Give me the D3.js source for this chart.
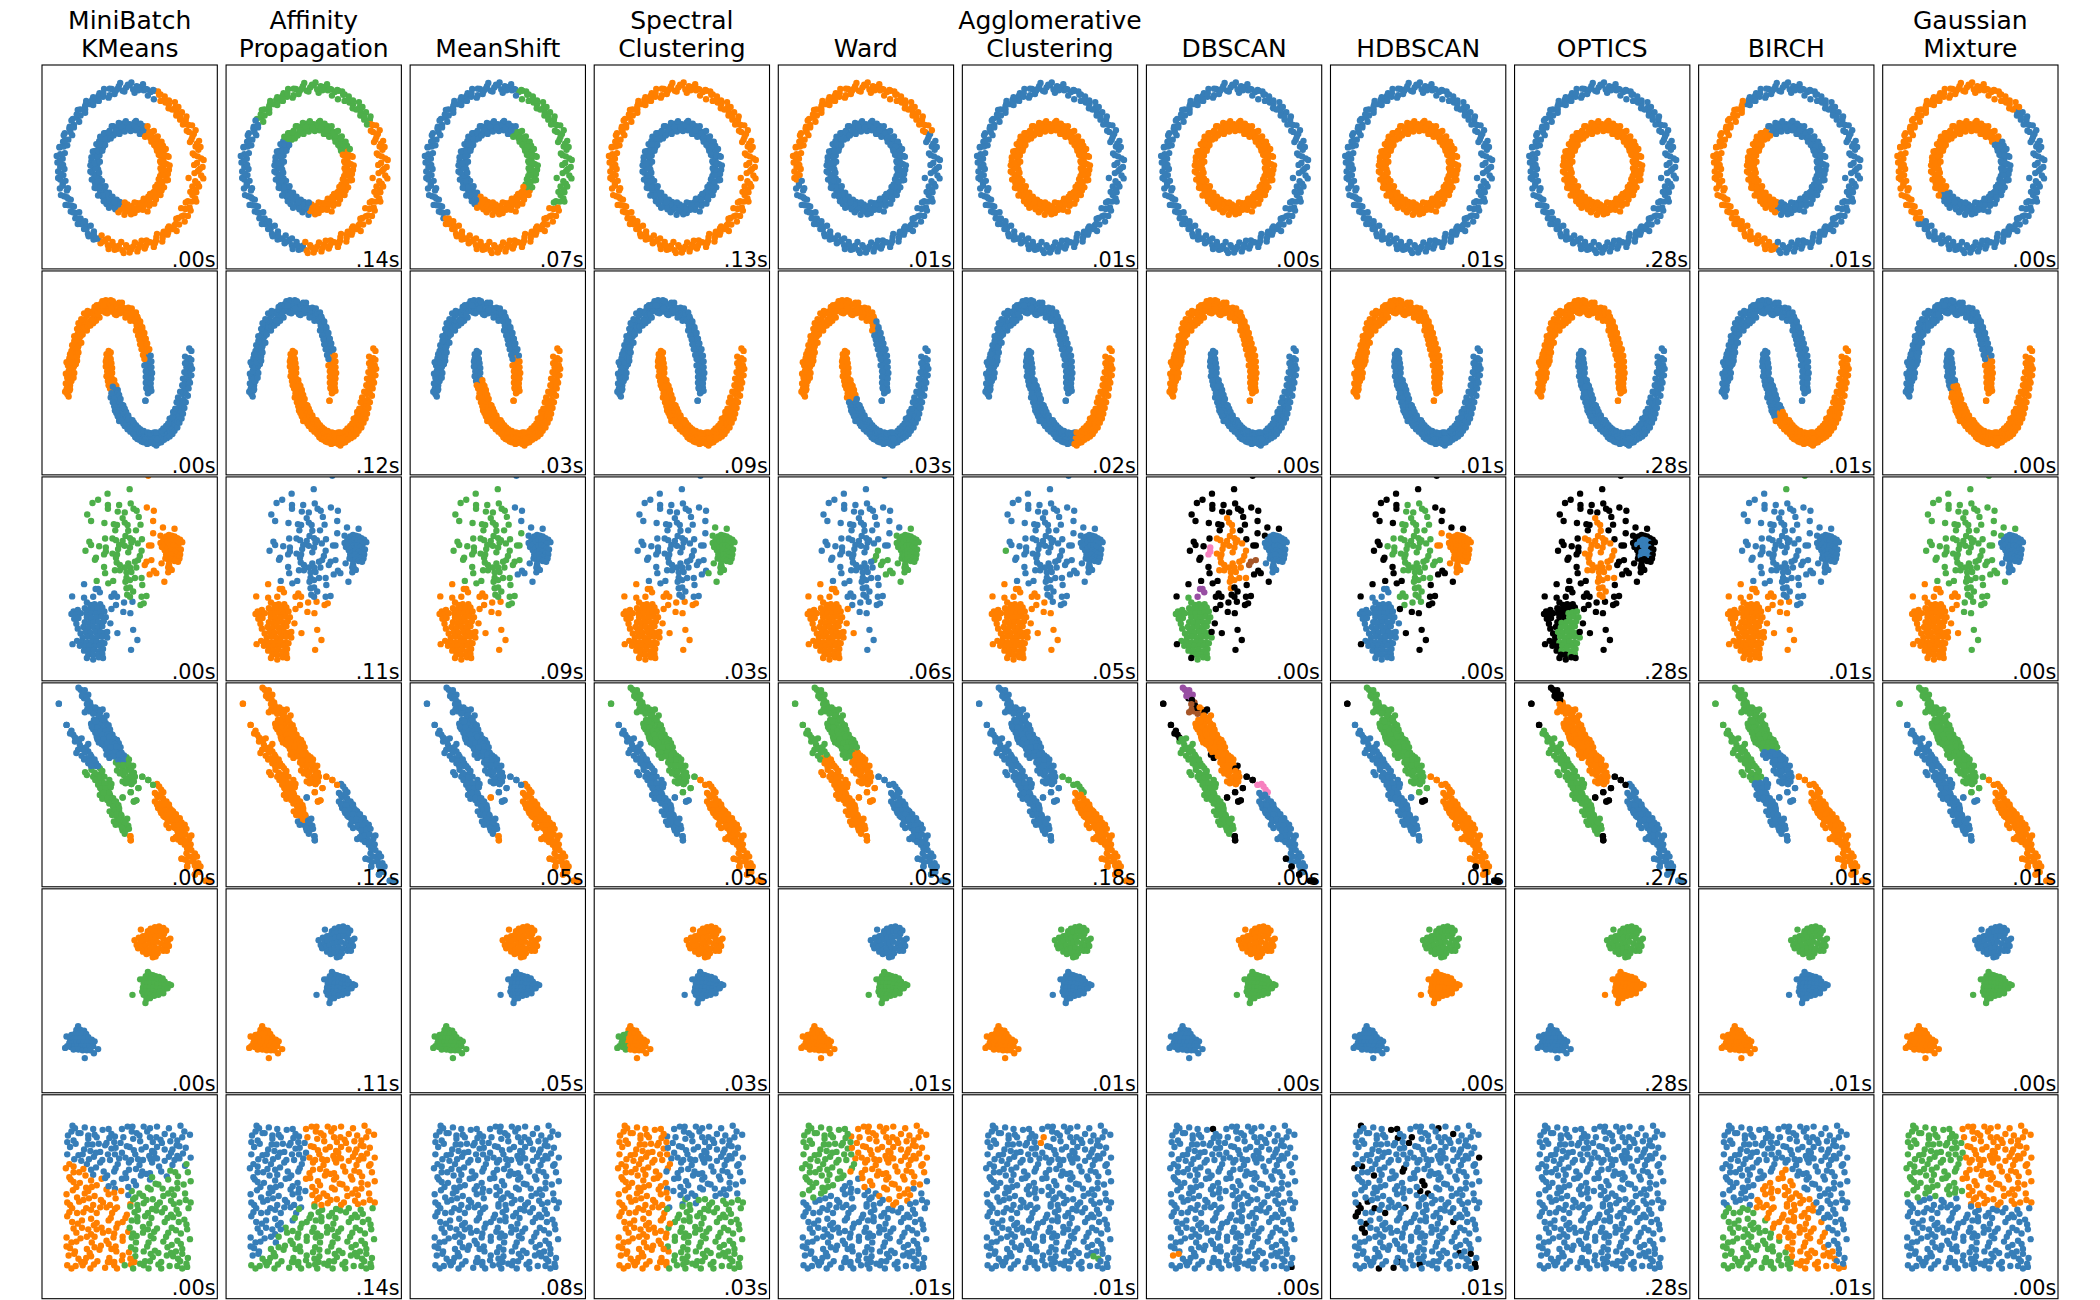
<!DOCTYPE html>
<html>
<head>
<meta charset="utf-8">
<title>Clustering comparison</title>
<script src="https://cdn.jsdelivr.net/npm/d3@7"></script>
<style>
  html, body { margin: 0; background: #fff; }
  svg { display: block; }
  text { font-family: "DejaVu Sans", sans-serif; fill: #000; }
</style>
</head>
<body>
<svg id="chart" width="2100" height="1300"></svg>
<script>
// ========= Data, in hundredths of a data unit =========
const algorithmTitles = [
  ["MiniBatch", "KMeans"], ["Affinity", "Propagation"], ["MeanShift"],
  ["Spectral", "Clustering"], ["Ward"], ["Agglomerative", "Clustering"],
  ["DBSCAN"], ["HDBSCAN"], ["OPTICS"], ["BIRCH"], ["Gaussian", "Mixture"],
];

const rowTimes = [
  [".00s", ".14s", ".07s", ".13s", ".01s", ".01s", ".00s", ".01s", ".28s", ".01s", ".00s"],
  [".00s", ".12s", ".03s", ".09s", ".03s", ".02s", ".00s", ".01s", ".28s", ".01s", ".00s"],
  [".00s", ".11s", ".09s", ".03s", ".06s", ".05s", ".00s", ".00s", ".28s", ".01s", ".00s"],
  [".00s", ".12s", ".05s", ".05s", ".05s", ".18s", ".00s", ".01s", ".27s", ".01s", ".01s"],
  [".00s", ".11s", ".05s", ".03s", ".01s", ".01s", ".00s", ".00s", ".28s", ".01s", ".00s"],
  [".00s", ".14s", ".08s", ".03s", ".01s", ".01s", ".00s", ".01s", ".28s", ".01s", ".00s"],
];

// flat x,y lists; rings run clockwise from the top, outer ring first
const circlesXY = [
  0,200, 10,190, 20,198, 31,196, 40,188, 50,190, 60,184, 70,187, 81,185, 88,178,
  100,173, 102,158, 112,154, 129,159, 130,145, 134,134, 149,134, 144,116, 160,116, 162,105,
  178,102, 169,86, 183,81, 176,67, 198,64, 188,50, 196,42, 185,29, 204,21, 192,10,
  208,0, 195,-10, 204,-21, 168,-27, 194,-41, 179,-48, 190,-62, 179,-69, 190,-85, 166,-84,
  171,-99, 159,-103, 166,-120, 149,-121, 139,-125, 141,-141, 128,-143, 123,-152, 109,-150, 108,-166,
  95,-165, 93,-183, 76,-172, 72,-187, 60,-185, 48,-180, 43,-200, 30,-190, 22,-207, 10,-195,
  0,-210, -10,-192, -21,-204, -31,-193, -43,-203, -49,-184, -62,-192, -69,-179, -83,-187, -89,-175,
  -103,-178, -102,-158, -119,-164, -123,-152, -127,-141, -140,-140, -140,-126, -155,-126, -155,-113, -168,-109,
  -165,-95, -183,-93, -175,-78, -187,-72, -179,-58, -199,-53, -191,-41, -198,-31, -189,-20, -204,-11,
  -198,0, -206,11, -191,20, -198,31, -200,49, -188,50, -190,62, -175,67, -185,83, -169,86,
  -171,99, -159,103, -162,118, -149,121, -140,126, -141,141, -127,141, -125,154, -112,154, -107,164,
  -94,163, -89,174, -76,172, -73,191, -57,176, -51,191, -40,186, -31,198, -20,187, -10,195,
  0,105, 6,95, 14,109, 17,90, 26,101, 29,89, 40,100, 38,81, 49,89, 50,79,
  62,86, 59,71, 68,73, 80,75, 72,60, 83,61, 76,48, 95,52, 87,41, 97,38,
  87,28, 107,27, 96,18, 89,11, 106,7, 95,0, 112,-7, 91,-12, 102,-19, 87,-22,
  103,-33, 88,-35, 92,-43, 79,-43, 91,-58, 78,-56, 80,-66, 67,-63, 75,-80, 62,-75,
  53,-73, 57,-89, 46,-84, 51,-109, 35,-87, 33,-103, 23,-89, 19,-102, 14,-113, 6,-96,
  0,-110, -6,-92, -15,-117, -18,-96, -27,-105, -28,-86, -41,-104, -37,-80, -50,-91, -50,-79,
  -66,-91, -61,-74, -59,-63, -77,-73, -71,-59, -84,-61, -76,-48, -95,-52, -87,-41, -99,-39,
  -86,-28, -101,-26, -92,-18, -107,-14, -90,-6, -104,0, -92,6, -109,14, -92,18, -101,26,
  -86,28, -99,39, -83,39, -89,49, -76,48, -87,63, -72,60, -74,70, -63,67, -69,83,
  -56,78, -57,89, -44,81, -47,100, -35,89, -32,99, -23,89, -20,106, -12,93, -6,102,
];

// second pass over both rings, in the same order as circlesXY
const circlesExtraXY = [
  5,207, 14,182, 25,188, 38,203, 46,191, 52,175, 67,189, 69,166, 84,177, 88,162,
  100,164, 112,163, 111,144, 121,141, 139,147, 133,126, 144,123, 162,124, 152,104, 168,103,
  163,89, 188,90, 179,74, 172,61, 192,57, 202,49, 180,33, 194,26, 211,17, 184,5,
  200,-5, 185,-15, 210,-28, 187,-35, 198,-48, 188,-56, 173,-61, 187,-77, 177,-85, 160,-87,
  174,-107, 147,-101, 155,-119, 157,-134, 133,-127, 132,-139, 134,-157, 112,-146, 110,-160, 97,-159,
  94,-174, 78,-164, 75,-181, 69,-196, 55,-184, 46,-193, 34,-181, 26,-198, 15,-185, 5,-202,
  -5,-198, -17,-211, -24,-184, -37,-201, -46,-193, -60,-201, -62,-175, -76,-183, -80,-168, -95,-176,
  -102,-167, -117,-170, -111,-144, -130,-152, -127,-133, -148,-140, -148,-126, -144,-111, -162,-111, -159,-97,
  -174,-94, -168,-80, -179,-74, -196,-69, -176,-52, -191,-46, -183,-34, -204,-27, -197,-16, -186,-5,
  -190,5, -199,16, -208,27, -185,34, -200,48, -178,53, -185,65, -188,78, -164,78, -172,94,
  -159,97, -166,114, -144,111, -151,129, -148,140, -127,133, -127,149, -124,162, -104,152, -104,171,
  -88,162, -86,181, -75,181, -60,170, -57,192, -43,179, -35,191, -27,206, -15,185, -5,202,
  3,88, 10,102, 18,113, 21,96, 31,106, 29,81, 39,90, 51,100, 44,74, 56,83,
  69,88, 63,72, 62,62, 78,69, 70,54, 91,62, 84,50, 78,40, 103,44, 83,30,
  98,28, 111,25, 87,14, 100,9, 114,4, 88,-3, 100,-9, 109,-17, 94,-21, 109,-32,
  83,-30, 92,-40, 98,-50, 83,-49, 73,-49, 88,-69, 69,-61, 74,-74, 58,-66, 70,-90,
  55,-81, 56,-95, 40,-78, 41,-94, 38,-105, 27,-94, 24,-105, 14,-87, 10,-104, 4,-116,
  -3,-100, -10,-108, -14,-87, -23,-101, -32,-111, -33,-92, -43,-99, -44,-86, -59,-100, -49,-73,
  -62,-81, -74,-84, -66,-66, -78,-69, -90,-70, -69,-47, -86,-51, -100,-51, -79,-34, -92,-33,
  -108,-31, -96,-21, -87,-14, -112,-11, -98,-3, -112,4, -100,9, -85,13, -109,24, -92,27,
  -105,38, -90,39, -78,40, -95,56, -83,56, -70,54, -84,74, -69,69, -73,83, -54,70,
  -59,86, -46,77, -51,100, -39,90, -29,81, -31,108, -22,98, -14,87, -11,112, -3,96,
];

const circlesLabels = [
  "0*8 1*61 0*51 0*7 1*48 0*45",
  "2*19 1*44 0*39 2*18 2*19 1*33 0*34 2*14",
  "0*6 2*34 1*37 0*43 0*8 2*26 1*26 0*40",
  "1*120 0*100",
  "1*22 0*65 1*33 0*100",
  "0*120 1*100",
  "0*120 1*100",
  "0*120 1*100",
  "0*120 1*100",
  "0*63 1*45 0*12 0*54 1*38 0*8",
  "1*15 0*61 1*44 1*14 0*50 1*36",
];

// upper moon from its left end, then lower moon from its left end
const moonsXY = [
  -178,-52, -180,-40, -172,-44, -178,-32, -170,-30, -176,-22, -172,-14, -166,-20, -176,-6, -170,-2,
  -164,-6, -172,8, -164,10, -176,18, -166,22, -160,14, -170,30, -160,30, -154,22, -164,42,
  -156,46, -166,54, -158,60, -150,56, -154,72, -146,66, -152,84, -144,80, -148,96, -140,90,
  -146,106, -136,100, -140,114, -130,108, -134,122, -124,118, -128,132, -118,124, -122,140, -110,130,
  -114,146, -104,136, -108,150, -98,142, -100,156, -92,148, -90,160, -82,152, -84,168, -74,158,
  -76,172, -66,160, -68,150, -62,170, -56,158, -56,170, -48,150, -46,166, -38,154, -38,168,
  -30,150, -28,164, -20,148, -18,160, -10,142, -10,156, -2,150, -2,138, 6,148, 8,134,
  14,144, 16,126, 24,132, 22,112, 30,118, 28,100, 36,106, 32,88, 40,92, 36,76,
  44,78, 40,62, 48,64, 44,50, 52,50, 46,38, 54,36, 48,24, 56,22, 50,10,
  58,8, 50,-4, 60,-8, 52,-18, 58,-24, 50,-30, 60,-36, 52,-42, 56,-46, 45,-68,
  -60,54, -66,46, -58,42, -66,34, -58,30, -64,22, -56,18, -62,10, -54,6, -62,-2,
  -54,-8, -58,-14, -50,-14, -56,-24, -48,-22, -54,-32, -46,-32, -52,-40, -42,-38, -48,-48,
  -38,-48, -46,-56, -54,-60, -36,-58, -42,-66, -32,-68, -38,-76, -28,-74, -36,-84, -26,-84,
  -32,-92, -20,-90, -28,-100, -18,-98, -24,-108, -12,-106, -18,-114, -8,-110, -30,-110, -10,-120,
  -2,-118, -6,-128, 4,-124, 0,-134, 10,-130, 6,-140, 16,-136, 12,-146, 22,-142, 20,-152,
  28,-146, 30,-156, 36,-150, 38,-160, 44,-152, 46,-166, 52,-156, 56,-172, 58,-162, 66,-154,
  66,-166, 74,-160, 76,-178, 80,-150, 84,-164, 88,-152, 92,-158, 96,-146, 100,-154, 104,-142,
  108,-150, 112,-136, 116,-146, 118,-128, 122,-138, 124,-122, 130,-128, 130,-114, 136,-118, 134,-102,
  142,-106, 138,-92, 146,-94, 142,-80, 150,-80, 146,-68, 154,-66, 152,-52, 160,-50, 156,-38,
  164,-32, 158,-22, 168,-16, 162,-4, 170,4, 162,14, 174,18, 164,28, 170,36, 176,54,
];

// second pass along both moons, in the same order as moonsXY
const moonsExtraXY = [
  -174,-58, -184,-46, -176,-38, -170,-40, -182,-26, -168,-20, -178,-12, -160,-12, -182,-2, -174,4,
  -158,0, -168,14, -158,18, -180,26, -172,36, -154,22, -164,26, -156,38, -150,30, -170,46,
  -150,40, -160,62, -164,68, -146,50, -148,62, -158,78, -158,90, -138,74, -142,100, -150,108,
  -134,94, -142,118, -146,122, -122,104, -128,112, -138,132, -120,114, -112,116, -130,146, -104,122,
  -120,152, -96,128, -100,162, -106,128, -94,166, -86,136, -82,166, -90,144, -78,176, -70,148,
  -68,178, -60,150, -74,166, -54,178, -64,146, -48,176, -42,144, -52,158, -28,146, -30,172,
  -38,142, -22,172, -12,136, -26,154, -4,160, 2,128, 6,158, 10,146, 14,128, 18,148,
  20,116, 22,138, 18,104, 30,126, 24,92, 36,112, 28,82, 42,98, 30,70, 46,84,
  34,58, 50,72, 38,44, 56,58, 42,34, 60,42, 42,18, 62,28, 46,4, 62,14,
  46,-10, 64,0, 46,-24, 62,-14, 48,-36, 60,-26, 52,-50, 62,-44, 48,-38, 45,-68,
  -54,50, -60,48, -64,40, -54,34, -68,28, -52,24, -68,16, -50,12, -64,4, -50,0,
  -66,-8, -50,-18, -62,-20, -44,-18, -60,-30, -42,-28, -56,-38, -38,-32, -48,-34, -34,-42,
  -52,-50, -34,-50, -44,-62, -30,-54, -48,-72, -26,-64, -44,-82, -22,-78, -42,-92, -18,-80,
  -38,-98, -14,-88, -34,-106, -10,-96, -30,-118, -4,-104, -24,-118, -2,-112, -18,-124, 8,-116,
  -14,-130, 12,-122, -6,-138, 18,-128, 2,-144, 24,-134, 10,-150, 30,-138, 16,-158, 34,-144,
  22,-162, 40,-142, 28,-164, 44,-164, 34,-168, 52,-146, 40,-170, 60,-148, 50,-174, 62,-170,
  70,-146, 70,-174, 82,-172, 76,-146, 90,-170, 78,-162, 98,-164, 90,-142, 106,-160, 96,-136,
  114,-156, 104,-130, 122,-150, 110,-124, 128,-142, 114,-112, 136,-134, 122,-108, 142,-122, 124,-96,
  148,-112, 130,-88, 152,-100, 134,-72, 156,-86, 138,-60, 160,-72, 144,-46, 166,-56, 150,-30,
  168,-38, 152,-14, 172,-24, 156,2, 176,-6, 158,24, 178,10, 158,40, 176,32, 170,60,
];

const moonsLabels = [
  "1*85 0*15 1*18 0*82",
  "0*85 1*15 1*100",
  "0*86 1*14 0*13 1*87",
  "0*100 1*100",
  "1*73 0*27 1*24 0*76",
  "0*161 1*39",
  "1*100 0*100",
  "1*100 0*100",
  "1*100 0*100",
  "0*133 1*67",
  "0*86 1*14 0*17 1*83",
];

// dense lower-left blob (76), points around it (22), scattered middle (86),
// points around the right blob (20), dense right blob (42)
const variedXY = [
  -122,-58, -112,-64, -100,-62, -84,-62, -160,-80, -148,-76, -128,-72, -116,-76, -104,-74, -92,-72,
  -78,-70, -166,-86, -154,-88, -140,-84, -124,-84, -110,-84, -96,-84, -84,-82, -72,-80, -158,-98,
  -146,-96, -122,-94, -108,-96, -94,-94, -80,-92, -68,-94, -152,-110, -128,-106, -116,-108, -102,-106,
  -88,-106, -74,-104, -148,-122, -132,-118, -118,-120, -104,-118, -90,-118, -78,-116, -140,-134, -126,-130,
  -112,-132, -98,-130, -84,-130, -70,-132, -134,-144, -120,-142, -106,-144, -92,-142, -78,-142, -64,-144,
  -150,-152, -136,-154, -122,-156, -108,-154, -94,-154, -80,-156, -142,-164, -128,-166, -114,-164, -100,-166,
  -86,-164, -72,-158, -163,-160, -130,-176, -116,-176, -102,-174, -88,-178, -76,-172, -118,-186, -104,-186,
  -90,-186, -78,-184, -122,-194, -104,-198, -88,-192, -76,-194,
  -164,-43, -130,-13, -130,-46, -104,-44, -97,-25, -90,-25, -85,-33, -52,-44, -44,-36, -36,-44,
  -39,-64, -16,-58, 8,-56, -52,-74, -18,-81, 2,-84, -55,-109, -64,-130, -35,-133, 10,-125,
  22,-150, 4,-174,
  0,220, -63,209, -90,194, -106,186, -62,181, -62,172, -30,181, 3,185, -121,158, -110,142,
  -34,165, -14,163, 11,172, 20,167, 26,152, -20,149, -72,137, -45,134, -36,132, -14,138,
  -6,132, 31,133, -41,119, -4,118, 18,119, -12,105, 1,100, 9,95, -70,99, -49,99,
  -39,95, -20,93, 5,89, 35,97, 23,87, -115,91, -110,83, -87,80, -68,77, -30,83,
  -14,81, 1,77, -126,69, -68,67, -73,60, -49,62, -33,73, -36,60, -4,65, 34,69,
  29,56, -96,52, -99,47, -39,52, 24,46, -37,40, -28,34, -4,38, 15,42, -73,29,
  -14,28, 1,28, 19,28, -42,21, -28,21, -70,14, -9,16, 5,17, -9,3, 15,2,
  34,2, -94,-5, -47,-5, -61,-11, -12,-7, 1,-3, 36,-15, -9,-23, 1,-21, 10,-31,
  -7,-39, 1,-44, 34,-44, 48,-42, 31,-64, 40,-60,
  49,175, 69,167, 67,142, 67,112, 55,82, 62,82, 88,106, 95,126, 128,123, 48,42,
  62,46, 43,34, 91,38, 110,28, 110,16, 69,20, 57,11, 76,14, 99,-7, 53,253,
  88,88, 96,96, 104,104, 112,108, 120,106, 128,104, 136,100, 144,96, 150,90, 92,78,
  100,84, 108,92, 116,96, 124,94, 132,90, 140,86, 100,70, 108,76, 116,82, 124,82,
  132,78, 140,74, 146,72, 104,60, 112,66, 120,70, 128,66, 136,62, 144,60, 102,50,
  110,56, 118,60, 126,54, 134,52, 142,50, 112,46, 120,48, 128,44, 138,42, 112,36,
  114,28, 120,22,
];

const variedLabels = [
  "0*98 2*86 1*62",
  "1*98 0*84 1*2 0*62",
  "1*98 2*86 0*3 2*3 0*3 2*3 0*8 0*42",
  "1*98 0*84 1*2 0*6 2*3 0*3 2*3 0*2 2*2 0 2*42",
  "1*76 1*7 0*6 1 0*2 1*3 0*3 0*49 2*2 0*3 2 0*31 0*6 2 0 2 2*3 2*3 2*3 2 0 2*42",
  "1*88 0 1*9 0*42 2 0*43 0*62",
  "2*62 x 2*9 x 2*3 xx 2 5555 x*15 xxxxxxxxxx xxxxx1xxx1 1xx1x111x1 111x1xxx31 11x3311111 1xx111111x 11111x1111 1xxx11x1xx xxxxxx x*9 4*3 0*3 x*5 0*42",
  "0*62 x 0*13 xx 0*5 2*6 xxx 00 xxxx xxxxxx22xx 222222x222 2222222222 22222xx222 22x2222222 2xx222222x 22222x2222 2xxx22x222 22xxxx xxx 1111 xx 222 111 xxxx x 1*42",
  "xxxx xxxxxxx xxxxx222 xxxx222 xx2222 xx2222 x22222 x22222 xx2222 xx2222 xx2222 xx22xxxx x*22 xxxxxxxxxx xxxxx1xxx1 1xx1x111x1 111x1xxxx1 11xxx11111 1xx111111x 11111x1111 1xxx11x111 11xxxx x*20 xxxxxxxxx x00000x xx000xx x0000x x0000x xxxx xxx",
  "1*98 2 0*85 0*19 2 0*42",
  "1*76 1*11 2*2 1 2*2 1*3 2*3 2*86 2*12 0*3 2*5 0*42",
];

// lone point (1), upper band (65), bridge (3), lower band (16 + 35),
// lower band tail (2), right band (47)
const anisoXY = [
  -202,199,
  -140,233, -134,226, -128,221, -118,221, -130,212, -113,202, -111,194, -121,185, -113,180, -90,184,
  -77,185, -94,176, -66,170, -102,159, -90,163, -80,155, -99,147, -85,147, -68,151, -104,136,
  -90,136, -75,139, -63,141, -85,127, -71,127, -56,131, -94,118, -80,117, -66,117, -49,123,
  -85,110, -71,106, -56,110, -36,110, -73,96, -61,98, -47,100, -31,102, -56,87, -45,88,
  -66,74, -52,76, -36,82, -23,79, -39,68, -23,68, -9,68, -39,55, -26,55, -9,55,
  10,47, -36,35, -20,38, -4,41, 12,30, -17,24, -1,20, 15,20, -20,8, 0,12,
  5,2, 3,-18, 25,-8, 12,-41, 19,-38,
  36,20, 53,12, 67,0,
  -180,147, -166,133, -161,123, -156,106, -137,114, -142,98, -118,100, -147,86, -132,90, -137,71,
  -118,82, -123,65, -109,69, -104,57, -118,53, -96,53,
  -127,31, -109,37, -85,41, -104,20, -90,25, -80,29, -94,12, -80,12, -58,12, -90,0,
  -75,0, -61,2, -80,-12, -64,-12, -85,-25, -71,-25, -56,-25, -64,-37, -47,-33, -52,-45,
  -39,-41, -47,-53, -36,-49, -57,-65, -42,-63, -30,-65, -36,-78, -23,-78, -45,-90, -7,-83,
  -28,-98, -17,-102, -4,-100, -20,-112, -20,-31,
  2,-126, 3,-136,
  78,2, 90,-12, 72,-20, 81,-30, 95,-33, 72,-41, 86,-45, 105,-41, 105,-50, 81,-57,
  95,-57, 114,-57, 90,-69, 105,-65, 119,-69, 124,-65, 100,-79, 114,-78, 129,-78, 143,-82,
  105,-98, 119,-90, 133,-94, 129,-106, 143,-102, 157,-98, 138,-118, 152,-114, 124,-133, 176,-124,
  138,-134, 152,-133, 167,-139, 157,-147, 171,-151, 162,-168, 176,-176, 186,-168, 148,-181, 157,-183,
  181,-188, 164,-200, 202,-200, 190,-208, 186,-220, 217,-235, 228,-235,
];

// second pass along the bands, in the same order as anisoXY
const anisoExtraXY = [
  -202,199,
  -146,238, -128,232, -136,218, -124,214, -120,208, -122,198, -104,188, -128,178, -104,174, -98,190,
  -84,178, -86,170, -74,164, -110,150, -96,156, -72,160, -108,142, -92,140, -60,146, -98,128,
  -82,132, -68,132, -56,136, -92,112, -78,122, -62,124, -88,104, -74,112, -58,118, -44,114,
  -80,100, -64,102, -50,104, -42,100, -68,88, -55,92, -38,94, -26,92, -62,80, -40,80,
  -58,66, -46,70, -30,74, -16,72, -32,60, -16,62, -2,62, -32,48, -18,48, -2,50,
  4,40, -28,28, -12,32, 4,34, 6,24, -10,14, 8,12, 12,8, -12,4, -6,6,
  5,2, 3,-18, 25,-8, 12,-41, 19,-38,
  36,20, 53,12, 67,0,
  -180,147, -170,126, -156,116, -150,112, -145,106, -136,88, -124,92, -152,78, -128,80, -130,62,
  -112,74, -116,58, -100,62, -96,46, -110,46, -90,46,
  -122,24, -100,30, -78,34, -98,12, -84,18, -72,20, -88,4, -72,4, -52,2, -84,-8,
  -68,-8, -54,-6, -74,-20, -58,-20, -78,-34, -64,-32, -50,-34, -58,-46, -42,-42, -46,-54,
  -32,-50, -40,-62, -30,-58, -50,-74, -36,-72, -24,-74, -30,-86, -16,-88, -40,-98, -12,-92,
  -22,-106, -10,-110, -2,-108, -14,-120, -20,-31,
  2,-126, 3,-136,
  84,-4, 96,-18, 78,-26, 88,-24, 100,-42, 78,-48, 92,-50, 112,-48, 98,-62, 88,-64,
  102,-72, 120,-62, 96,-76, 112,-72, 126,-76, 132,-72, 108,-86, 122,-84, 136,-86, 148,-92,
  112,-106, 126,-100, 140,-100, 136,-112, 150,-110, 162,-108, 146,-124, 160,-122, 132,-128, 170,-132,
  146,-140, 160,-140, 174,-146, 164,-156, 176,-160, 168,-176, 182,-184, 192,-176, 148,-181, 166,-190,
  186,-198, 164,-200, 196,-192, 198,-214, 186,-220, 217,-235, 228,-235,
];

const anisoLabels = [
  "0 0*46 2*19 2*3 0*16 2*35 1*2 1*47",
  "1 1*65 1*3 1*16 1*27 0*8 0*2 0*47",
  "0*119 1*50",
  "2 2*63 0*2 2 1 1 0*16 0*35 0*2 1*47",
  "2 2*42 1*23 0*3 2*11 1*5 1*35 1*2 0*47",
  "0*66 2*3 0*53 2*2 1*45",
  "x 5555 x 4 x 44 1 x 1*29 x 1*9 x 1*10 xxxx xx3 xxx 2*13 2*34 x xx 33 0*36 x 00 x 00 xxx",
  "x 2*63 xx 1*3 0*16 0*35 0*2 1*41 x 1*3 xx",
  "x x*5 1*56 x*4 x*3 x 2*15 2*34 x x*2 0*47",
  "2 2*38 0*27 1*3 2*16 2*6 0*29 0*2 1*47",
  "2 2*63 0*2 2 1 1 0*16 0*35 0*2 1*47",
];

// top blob (49), middle blob (48), lower-left blob (42)
const blobsXY = [
  32,150, 52,146, 60,152, 72,156, 84,158, 96,154, 104,148, 14,124, 26,130, 38,134,
  48,136, 58,140, 68,144, 78,146, 88,146, 98,140, 110,124, 20,112, 30,118, 40,122,
  52,126, 62,130, 74,132, 86,134, 96,128, 106,118, 116,128, 24,104, 36,108, 46,112,
  58,116, 68,118, 78,120, 90,116, 100,108, 112,110, 38,96, 50,100, 60,104, 72,106,
  84,104, 96,98, 106,98, 48,90, 60,92, 70,94, 80,92, 66,82, 74,84,
  52,46, 58,40, 46,36, 66,38, 74,36, 84,34, 94,30, 30,28, 38,28, 50,28,
  60,28, 70,28, 80,26, 90,24, 100,22, 40,18, 50,18, 60,18, 70,18, 80,16,
  90,14, 100,12, 112,16, 118,14, 38,8, 48,8, 58,8, 68,8, 78,6, 88,6,
  98,4, 108,6, 36,-2, 46,-2, 56,-2, 66,-2, 76,-4, 86,-2, 96,-6, 40,-10,
  50,-10, 60,-10, 70,-12, 82,-10, 8,-10, 45,-30, 48,-20, 58,-18,
  -147,-87, -152,-96, -140,-96, -130,-98, -180,-112, -166,-108, -156,-106, -146,-106, -136,-106, -124,-106,
  -170,-118, -160,-118, -150,-116, -140,-116, -130,-116, -118,-114, -108,-120, -100,-124, -172,-128, -162,-128,
  -152,-126, -142,-126, -132,-126, -120,-126, -110,-130, -178,-136, -168,-138, -158,-136, -148,-136, -138,-136,
  -126,-136, -114,-138, -104,-136, -184,-140, -160,-144, -146,-144, -134,-146, -122,-146, -112,-146, -128,-165,
  -102,-153, -90,-143,
];

const blobsLabels = [
  "1*49 2*48 0*42",
  "0*97 1*42",
  "1*49 0*48 2*42",
  "1*49 0*48 1111 222 111 22 1*6 22 1*5 222 1*5 22 1*7",
  "0*49 2*48 1*42",
  "2*49 0*48 1*42",
  "1*49 2*48 0*42",
  "2*49 1*48 0*42",
  "2*49 1*48 0*42",
  "2*49 0*48 1*42",
  "0*49 2*48 1*42",
];

// 16 rows of 18 points, top to bottom, each row left to right
const noiseXY = [
  -163,174, -146,156, -128,170, -118,150, -94,146, -77,164, -60,166, -42,148, -22,166, -6,172, 6,160, 28,150, 40,172, 58,168, 78,172, 100,154, 145,174, 156,160,
  -176,150, -160,138, -140,156, -106,128, -100,152, -70,126, -58,144, -26,132, -18,146, 20,156, 30,136, 58,146, 76,146, 88,140, 116,136, 124,150, 150,146, 172,152,
  -170,122, -154,130, -130,116, -120,128, -88,130, -84,110, -52,118, -40,120, -8,124, 0,122, 34,116, 46,122, 64,112, 92,132, 100,116, 134,126, 142,124, 160,120,
  -178,104, -146,102, -134,104, -102,98, -96,108, -62,104, -56,90, -22,108, -12,96, 16,104, 24,92, 56,100, 70,108, 78,94, 118,108, 136,100, 152,106, 174,96,
  -160,74, -138,88, -122,80, -110,66, -84,84, -78,90, -40,70, -30,94, -2,84, 28,78, 38,90, 64,84, 84,74, 100,88, 122,78, 128,90, 158,76, 162,80,
  -182,70, -172,48, -144,60, -126,52, -104,54, -74,62, -64,52, -44,62, -12,58, -2,66, 32,52, 36,62, 58,58, 90,62, 106,50, 130,60, 138,50, 166,60,
  -168,42, -152,24, -142,34, -110,40, -94,28, -80,44, -46,34, -42,20, -22,44, 12,38, 18,28, 58,42, 74,32, 82,30, 110,42, 120,18, 154,30, 174,38,
  -180,6, -162,16, -128,8, -118,14, -100,2, -66,18, -60,6, -24,14, -4,4, 6,14, 28,8, 38,2, 60,18, 96,2, 94,20, 126,4, 136,20, 158,8,
  -170,-20, -144,-12, -132,-8, -104,-20, -82,-8, -76,-14, -40,-4, -36,-26, 2,-18, 10,-6, 40,-16, 48,-8, 78,-20, 86,-14, 118,-10, 126,-18, 160,-8, 174,-14,
  -172,-38, -164,-28, -132,-38, -124,-28, -94,-40, -84,-26, -50,-40, -42,-30, -8,-44, 2,-24, 24,-32, 52,-40, 64,-30, 92,-38, 100,-28, 134,-32, 140,-42, 168,-28,
  -178,-48, -148,-66, -136,-58, -110,-54, -94,-64, -60,-58, -54,-52, -20,-62, -12,-52, 22,-60, 22,-50, 56,-66, 62,-52, 100,-62, 108,-52, 140,-62, 156,-56, 162,-68,
  -160,-78, -152,-88, -118,-80, -110,-92, -80,-76, -76,-88, -44,-90, -38,-76, -4,-86, 0,-76, 38,-88, 38,-74, 70,-86, 78,-78, 110,-88, 120,-76, 146,-90, 164,-80,
  -180,-100, -152,-110, -140,-102, -108,-112, -100,-98, -66,-108, -60,-116, -20,-108, -20,-98, 18,-112, 20,-96, 54,-112, 68,-102, 96,-110, 104,-98, 136,-108, 146,-116, 172,-104,
  -170,-126, -156,-134, -122,-128, -114,-138, -86,-130, -82,-120, -38,-134, -40,-122, -2,-136, 4,-124, 40,-134, 50,-122, 72,-132, 82,-138, 108,-124, 118,-138, 150,-128, 150,-140,
  -174,-144, -146,-152, -138,-160, -110,-146, -92,-158, -58,-150, -58,-160, -20,-144, -22,-156, 14,-160, 16,-146, 58,-158, 66,-148, 90,-160, 106,-144, 138,-152, 144,-158, 166,-150,
  -166,-176, -154,-170, -134,-168, -112,-176, -102,-166, -70,-174, -44,-168, -36,-176, 4,-166, 10,-176, 40,-168, 54,-176, 82,-166, 90,-176, 114,-170, 136,-170, 164,-172, 162,-164,
];

// one more point near every third point of noiseXY
const noiseExtraXY = [
  -156,168, -104,166, -52,154, 8,172, 50,160, 112,168,
  -166,160, -118,142, -44,134, 10,142, 66,134, 136,138,
  -178,134, -112,112, -66,132, 12,114, 78,122, 122,116,
  -158,92, -116,92, -42,104, 4,90, 60,92, 142,94,
  -172,80, -96,72, -34,80, 18,68, 72,96, 112,98,
  -160,60, -132,68, -70,46, -10,46, 48,56, 116,64,
  -160,36, -124,22, -60,26, -4,24, 64,48, 136,34,
  -150,-2, -108,24, -44,10, 16,-2, 52,22, 110,8,
  -178,-14, -116,-4, -56,-20, 22,-20, 66,-6, 142,-14,
  -150,-40, -110,-32, -66,-26, 14,-38, 76,-34, 118,-44,
  -164,-62, -102,-70, -34,-66, 6,-58, 44,-48, 124,-50,
  -136,-76, -94,-80, -60,-84, 10,-90, 52,-80, 132,-82,
  -166,-112, -122,-98, -46,-100, 6,-100, 60,-96, 120,-118,
  -180,-122, -100,-124, -52,-128, 16,-130, 60,-140, 132,-134,
  -158,-140, -124,-150, -44,-160, 2,-152, 44,-158, 124,-146,
  -178,-168, -128,-160, -62,-160, -14,-168, 30,-164, 150,-176,
];

const noiseLabels = [
  "0*72 1 0*16 2 1*4 0*11 2*3 1*6 0*6 2*6 1*8 0 2*9 1*9 2*9 1*9 2*9 1*9 2*9 1*9 2*9 1*9 2*9 1*9 2*9 1*10 2*8 1*9 2*9",
  "0*8 1*10 0*8 1*10 0*8 1*10 0*8 1*10 0*8 1*10 0*8 1*10 0*8 1*10 0*8 1*10 0*8 1*10 0*7 2*11 0*6 2*12 0*4 2*14 0*4 2*14 0*2 2*16 0 2*17 2*18",
  "0*288",
  "1*7 0*11 1*7 0*11 1*7 0*11 1*7 0*11 1*7 0*11 1*7 0*11 1*7 0*11 1*7 0*11 1*7 0*2 2 0 2*7 1*7 2*11 1*7 2*11 1*7 2*11 1*7 2*11 1*7 2*11 1*7 2*11 1*7 2*11",
  "2*7 1*11 2*7 1*11 2*7 1*11 2*7 1*11 2*7 1*11 2*7 1*11 2*6 0*3 1*8 0 2*4 0*7 1*5 0*2 0*12 1*3 0*3 0*126",
  "0*18 0*7 1*2 0*9 0*216 0*15 2 0*2 0*18",
  "0*6 x 0*11 0*234 1 0*17 0*16 x 0",
  "x 0*4 xx 0*6 x 0 x 00 0*6 xxx 0*9 0*18 0*17 x x 0*5 x 0*11 x 00 x 000 x 0*10 0*9 xx 0*7 0*9 xx 0*7 xx 0*5 x 0*10 xx 0 xx 0*13 xx 0*11 x 0*4 xx 0*16 0*18 0*15 x 0 x 0*6 x 0*11 000 x 0 x 00 x 0*7 xx",
  "0*288",
  "0*90 0*8 1*2 0*8 0*6 1*5 0*7 0*5 1*7 0*6 0*4 1*9 0*5 2*5 1*8 0*5 2*6 1*8 0*4 2*7 1*8 0*3 2*8 1*7 0*3 2*9 1*7 0*2 2*10 1*6 0*2 2*10 1*7 0",
  "2*8 1*10 2*8 1*10 2*8 1*10 2*8 1*10 2*8 1*10 2*8 1*10 2*8 1*10 2*8 1*10 0*8 1*10 0*126",
];

const rowPoints = [circlesXY, moonsXY, variedXY, anisoXY, blobsXY, noiseXY];
const rowExtraPoints = [circlesExtraXY, moonsExtraXY, [], anisoExtraXY, [], noiseExtraXY];
const rowLabels = [circlesLabels, moonsLabels, variedLabels, anisoLabels, blobsLabels, noiseLabels];

const labelColors = {
  0: "#377eb8", 1: "#ff7f00", 2: "#4daf4a", 3: "#f781bf",
  4: "#a65628", 5: "#984ea3", x: "#000000",
};

// ========= Helpers =========
// "0*3 1 xx" -> ["0","0","0","1","x","x"]
function expandLabels(spec) {
  const out = [];
  for (const m of spec.matchAll(/(\w)(?:\*(\d+))?/g)) {
    const n = m[2] ? +m[2] : 1;
    for (let i = 0; i < n; i++) out.push(m[1]);
  }
  return out;
}

function toPoints(flat, labels) {
  const pts = [];
  for (let i = 0; i < flat.length; i += 2) {
    pts.push({ x: flat[i], y: flat[i + 1], label: labels[i / 2] });
  }
  return pts;
}

// extra points take the label of the point they sit next to;
// lone black points are not doubled in the noise grid
function extraLabels(labels, extra) {
  if (!extra.length) return [];
  const step = labels.length / (extra.length / 2);
  const picked = labels.filter((_, i) => i % step === 0);
  return step === 1 ? picked : picked.map((l) => (l === "x" ? "0" : l));
}

// ========= Layout =========
const chartW = 2100, chartH = 1300;
const nCols = algorithmTitles.length, nRows = rowPoints.length;

const gridLeft = 0.02 * chartW, gridRight = 0.98 * chartW;
const gridTop = 0.05 * chartH, gridBottom = 0.999 * chartH;
const panelW = (gridRight - gridLeft) / (nCols + 0.05 * (nCols - 1));
const panelH = (gridBottom - gridTop) / (nRows + 0.01 * (nRows - 1));
const stepX = panelW * 1.05, stepY = panelH * 1.01;

const xScale = d3.scaleLinear().domain([-250, 250]).range([0, panelW]);
const yScale = d3.scaleLinear().domain([-250, 250]).range([panelH, 0]);

const svg = d3.select("#chart");

svg.append("defs").append("clipPath").attr("id", "panel-clip")
  .append("rect").attr("width", panelW).attr("height", panelH);

// ---- titles ----
algorithmTitles.forEach((lines, col) => {
  const cx = gridLeft + col * stepX + panelW / 2;
  lines.forEach((line, i) => {
    svg.append("text")
      .attr("x", cx)
      .attr("y", 57 - (lines.length - 1 - i) * 28)
      .attr("text-anchor", "middle")
      .attr("font-size", 25)
      .text(line);
  });
});

// ---- panels ----
rowPoints.forEach((flat, row) => {
  const extra = rowExtraPoints[row];
  const rowTop = gridTop + row * stepY;
  rowLabels[row].forEach((spec, col) => {
    const labels = expandLabels(spec);
    const pts = toPoints(flat, labels).concat(toPoints(extra, extraLabels(labels, extra)));
    const g = svg.append("g")
      .attr("transform", `translate(${gridLeft + col * stepX},${rowTop})`);

    g.append("g").attr("clip-path", "url(#panel-clip)")
      .selectAll("circle").data(pts).join("circle")
      .attr("cx", (d) => xScale(d.x))
      .attr("cy", (d) => yScale(d.y))
      .attr("r", 3.2)
      .attr("fill", (d) => labelColors[d.label] ?? labelColors[0]);

    g.append("rect")
      .attr("width", panelW).attr("height", panelH)
      .attr("fill", "none").attr("stroke", "#000").attr("stroke-width", 1.1);

    // bottom row: lifted a little so the text box stays inside the page
    g.append("text")
      .attr("x", panelW * 0.99)
      .attr("y", Math.min(panelH * 0.99, chartH - 5 - rowTop))
      .attr("text-anchor", "end")
      .attr("font-size", 20.8)
      .text(rowTimes[row][col]);
  });
});
</script>
</body>
</html>
